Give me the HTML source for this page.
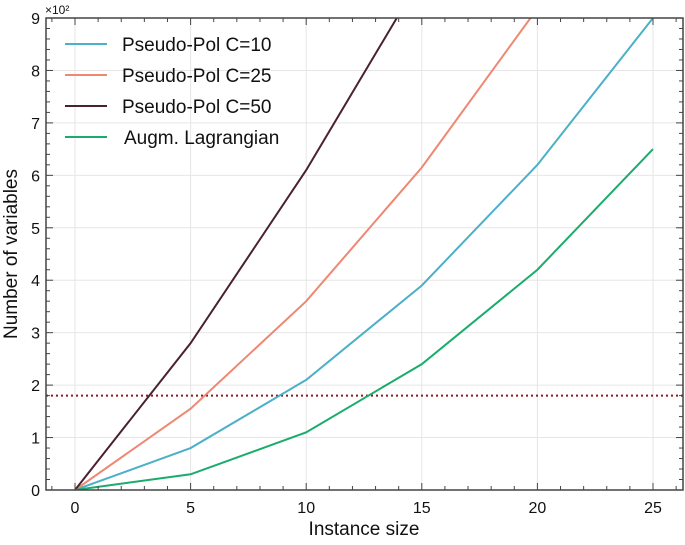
<!DOCTYPE html>
<html><head><meta charset="utf-8"><style>
body{margin:0;background:#fff;font-family:"Liberation Sans",sans-serif}
svg text{font-family:"Liberation Sans",sans-serif}
</style></head><body>
<svg id="c" width="685" height="540"></svg>
<script>
const xCats=[0,5,10,15,20,25];
const c10=[0,0.8,2.1,3.9,6.2,9.0];
const c25=[0,1.55,3.6,6.15,9.18,12.2];
const c50=[0,2.8,6.1,9.8,13.5,17.2];
const aug=[0,0.3,1.1,2.4,4.2,6.5];
const thresh=1.8;
const xTicks=[0,5,10,15,20,25];
const yTicks=[0,1,2,3,4,5,6,7,8,9];
const L=46,R=683,T=18,B=490;
const X=v=>75+v*23.12, Y=v=>B-v*(B-T)/9;
const svg=document.getElementById('c');const NS='http://www.w3.org/2000/svg';
function el(t,a,p){const e=document.createElementNS(NS,t);for(const k in a)e.setAttribute(k,a[k]);(p||svg).appendChild(e);return e;}
const defs=el('defs',{});const cp=el('clipPath',{id:'clip'},defs);el('rect',{x:L,y:T,width:R-L,height:B-T},cp);
xTicks.forEach(v=>{const g=el('line',{x1:X(v),x2:X(v),y1:T,y2:B,stroke:'#e6e6e6','stroke-width':1});
});
yTicks.forEach(v=>{const g=el('line',{x1:L,x2:R,y1:Y(v),y2:Y(v),stroke:'#e6e6e6','stroke-width':1});
});
const series=[[c10,'#4bb0c8','series-c10'],[c25,'#ee8872','series-c25'],[c50,'#4a2130','series-c50'],[aug,'#1aac6c','series-augm-lagrangian']];
const hl=el('line',{x1:L,x2:R,y1:Y(thresh),y2:Y(thresh),stroke:'#8b1a1a','stroke-width':2,'stroke-dasharray':'2,3'});

series.forEach(([d,col,n])=>{const p=el('polyline',{points:d.map((v,i)=>X(xCats[i])+','+Y(v)).join(' '),fill:'none',stroke:col,'stroke-width':2,'clip-path':'url(#clip)'});
});
const fr=el('rect',{x:L,y:T,width:R-L,height:B-T,fill:'none',stroke:'#444','stroke-width':1.5});

for(let v=-1;v<=26;v++){const x=X(v);if(x<L||x>R)continue;const len=v%5==0?7:4;
el('line',{x1:x,x2:x,y1:B,y2:B-len,stroke:'#444'});el('line',{x1:x,x2:x,y1:T,y2:T+len,stroke:'#444'});}
for(let i=0;i<=45;i++){const y=Y(i*0.2);const len=i%5==0?7:4;
el('line',{x1:L,x2:L+len,y1:y,y2:y,stroke:'#444'});el('line',{x1:R,x2:R-len,y1:y,y2:y,stroke:'#444'});}
xTicks.forEach(v=>{const t=el('text',{x:X(v),y:513,'text-anchor':'middle','font-size':16,fill:'#111'});t.textContent=v;
});
yTicks.forEach(v=>{const t=el('text',{x:40,y:Y(v)+6,'text-anchor':'end','font-size':16,fill:'#111'});t.textContent=v;
});
const ex=el('text',{x:45,y:14,'font-size':12,fill:'#111'});ex.textContent='×10²';

const xt=el('text',{x:364,y:535,'text-anchor':'middle','font-size':19,fill:'#111'});xt.textContent='Instance size';

const yt=el('text',{x:0,y:0,'text-anchor':'middle','font-size':19,fill:'#111',transform:'translate(17,254) rotate(-90)'});yt.textContent='Number of variables';

const labels=['Pseudo-Pol C=10','Pseudo-Pol C=25','Pseudo-Pol C=50','Augm. Lagrangian'];
labels.forEach((s,i)=>{const y=44+i*31;const g=el('g',{});

el('line',{x1:65,x2:107,y1:y,y2:y,stroke:series[i][1],'stroke-width':2},g);
const t=el('text',{x:i==3?124:122,y:y+7,'font-size':19,fill:'#111'},g);t.textContent=s;});
</script>
</body></html>
